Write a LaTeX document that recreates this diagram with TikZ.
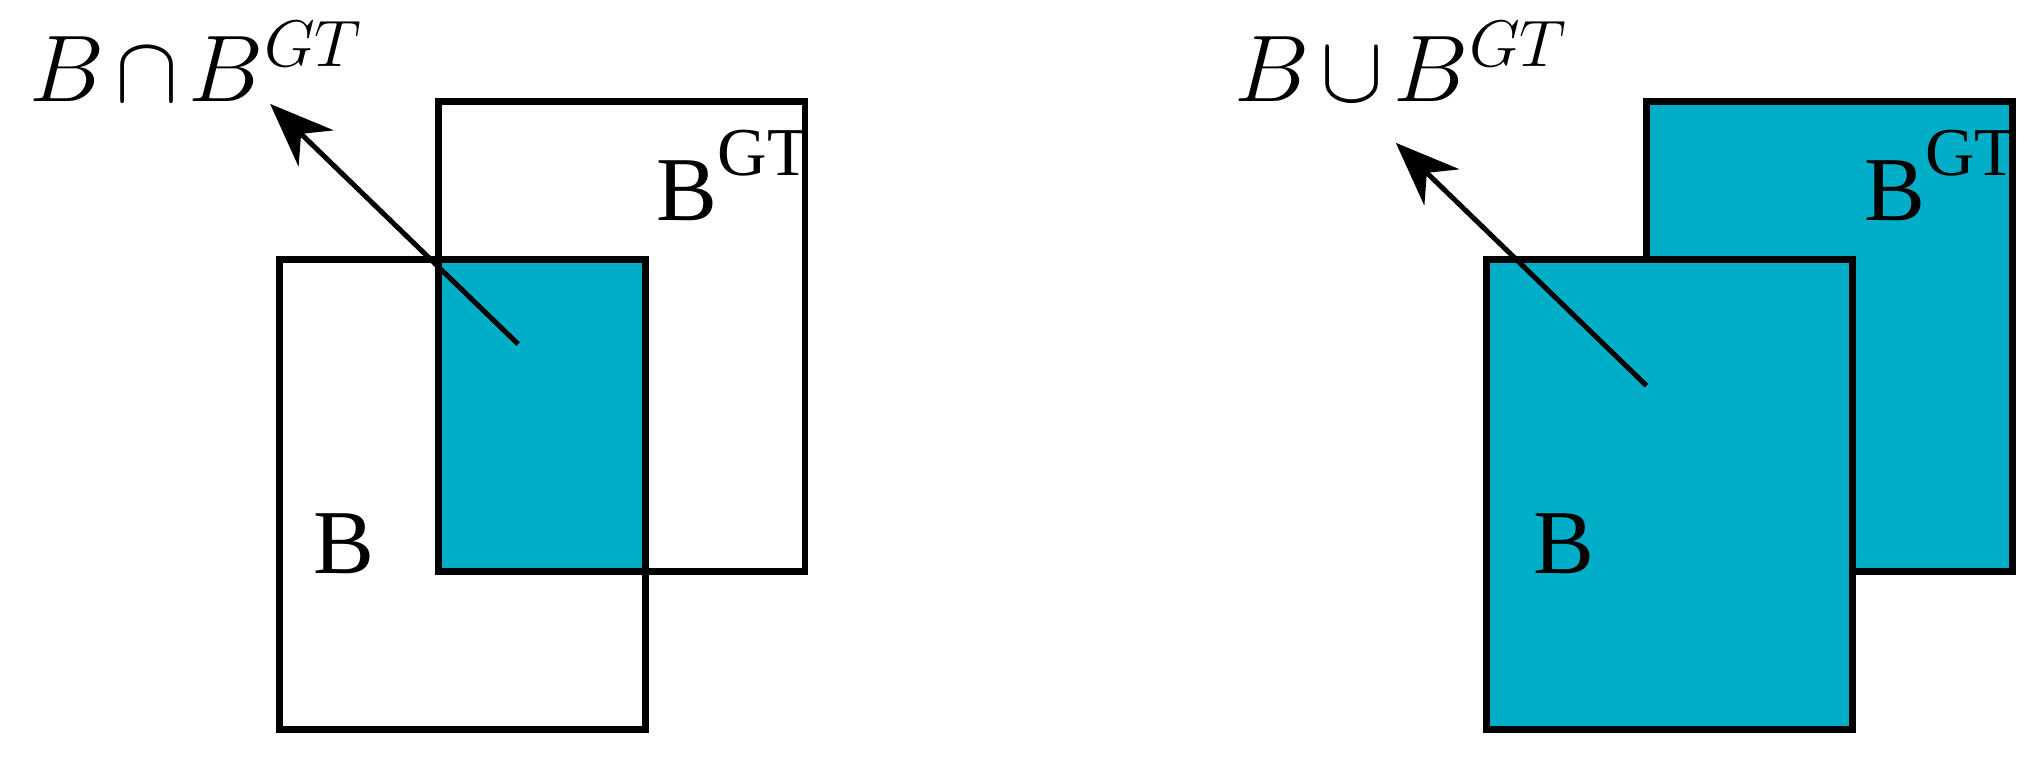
\documentclass[tikz,border=0pt]{standalone}
\usepackage{fontspec}
\setmainfont{Liberation Serif}
\usetikzlibrary{arrows.meta}
\definecolor{cy}{RGB}{0,174,199}
\newcommand{\gtsup}{\raisebox{0.5em}{\fontsize{15}{16}\selectfont GT}}
\begin{document}
\begin{tikzpicture}[x=0.01cm,y=-0.01cm,
  box/.style={draw=black,line width=1.5pt},
  arr/.style={-{Stealth[length=14pt,width=11pt]},line width=1.1pt},
  lbl/.style={inner sep=0,font=\fontsize{20}{22}\selectfont}]
\useasboundingbox (0,0) rectangle (1568,583);
% left
\fill[cy] (338,200) rectangle (497,440);
\draw[box] (215,200) rectangle (497,562);
\draw[box] (338,78) rectangle (620,440);
\coordinate (l1) at (399,265);
\coordinate (l2) at (208,80);
\draw[arr] (l1) -- (l2);
\node[lbl,anchor=base west] (lt) at (22,78) {$B\mkern-2mu\cap\mkern-2mu B^{GT}$};
\node[lbl,anchor=base west] (lg) at (505,170) {B\gtsup};
\node[lbl,anchor=base west] (lb) at (241,442) {B};
% right
\draw[box,fill=cy] (1268,78) rectangle (1550,440);
\draw[box,fill=cy] (1145,200) rectangle (1427,562);
\coordinate (r1) at (1268,297);
\coordinate (r2) at (1075,110);
\draw[arr] (r1) -- (r2);
\node[lbl,anchor=base west] (rt) at (950,78) {$B\mkern-2mu\cup\mkern-2mu B^{GT}$};
\node[lbl,anchor=base west] (rg) at (1435,170) {B\gtsup};
\node[lbl,anchor=base west] (rb) at (1180,442) {B};
\end{tikzpicture}
\end{document}
